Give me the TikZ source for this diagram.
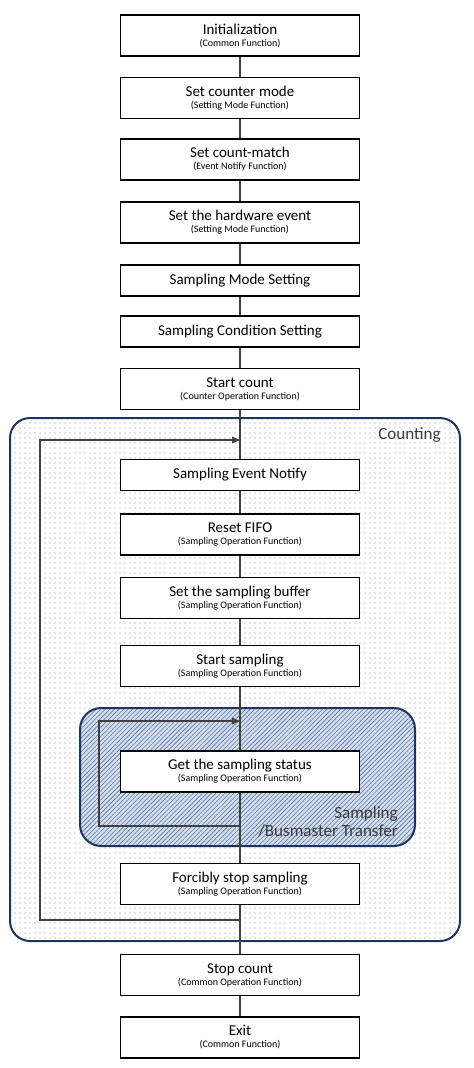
\documentclass[tikz,border=0pt]{standalone}
\usepackage{fontspec}
\setmainfont{Carlito}
\usetikzlibrary{positioning,patterns.meta,arrows.meta}
\tikzstyle{flowchart} = [x = 0.75pt, y = -0.75pt]
\definecolor{regionBorder}{RGB}{31,52,92}
\definecolor{dotColor}{RGB}{140,150,172}
\definecolor{hatchFill}{RGB}{214,223,238}
\definecolor{hatchLine}{RGB}{84,112,160}
\definecolor{labelGray}{RGB}{60,60,60}
\tikzstyle{stepStyle} = [draw=black, fill=white, line width=0.8pt, inner sep=0pt, align=center, minimum width=179.25pt, minimum height=30.75pt, font=\fontsize{11.25}{9}\selectfont]
\tikzstyle{stepSingleStyle} = [stepStyle, minimum height=23.25pt]
\tikzstyle{flowLine} = [color=black!75, line width=0.8pt]
\tikzstyle{loopArrow} = [flowLine, -{Triangle[length=6pt, width=5pt]}]
\tikzstyle{countingRegion} = [draw=regionBorder, line width=1.5pt, rounded corners=15pt, preaction={fill=white}, pattern={Dots[distance=3.75pt, radius=0.5pt]}, pattern color=dotColor]
\tikzstyle{samplingRegion} = [draw=regionBorder, line width=1.5pt, rounded corners=16pt, preaction={fill=hatchFill}, pattern={Lines[angle=45, distance=2.4pt, line width=0.45pt]}, pattern color=hatchLine]
\tikzstyle{regionLabel} = [color=labelGray, inner sep=0pt, font=\fontsize{12.8}{13.5}\selectfont]
\newcommand{\subFont}{\fontsize{7.5}{9}\selectfont}
\newcommand{\stepNode}[4]{\node [stepStyle] (#1) at (240,#2) {#3\\{\subFont(#4)}};}
\newcommand{\stepNodeSingle}[3]{\node [stepSingleStyle] (#1) at (240,#2) {#3};}

\begin{document}
\begin{tikzpicture}[flowchart]
  \useasboundingbox (0,0) rectangle (474,1068);

  % regions
  \draw [countingRegion] (10,418) rectangle (460,941);
  \draw [samplingRegion] (80,708) rectangle (415,846);
  \node [regionLabel, anchor=east] (countingLabel) at (441,435) {Counting};
  \node [regionLabel, anchor=east, align=right] (samplingLabel) at (398,822) {Sampling\\/Busmaster Transfer};

  % steps
  \stepNode{init}{35.5}{Initialization}{Common Function}
  \stepNode{counterMode}{98}{Set counter mode}{Setting Mode Function}
  \stepNode{countMatch}{159.5}{Set count-match}{Event Notify Function}
  \stepNode{hwEvent}{222.5}{Set the hardware event}{Setting Mode Function}
  \stepNodeSingle{modeSetting}{280.5}{Sampling Mode Setting}
  \stepNodeSingle{condSetting}{331.5}{Sampling Condition Setting}
  \stepNode{startCount}{389}{Start count}{Counter Operation Function}
  \stepNodeSingle{eventNotify}{475}{Sampling Event Notify}
  \stepNode{resetFifo}{534.5}{Reset FIFO}{Sampling Operation Function}
  \stepNode{setBuffer}{598}{Set the sampling buffer}{Sampling Operation Function}
  \stepNode{startSampling}{666}{Start sampling}{Sampling Operation Function}
  \stepNode{getStatus}{771.5}{Get the sampling status}{Sampling Operation Function}
  \stepNode{forceStop}{884}{Forcibly stop sampling}{Sampling Operation Function}
  \stepNode{stopCount}{975}{Stop count}{Common Operation Function}
  \stepNode{exitStep}{1037.5}{Exit}{Common Function}

  % main flow
  \foreach \from/\to in {init/counterMode, counterMode/countMatch, countMatch/hwEvent,
      hwEvent/modeSetting, modeSetting/condSetting, condSetting/startCount,
      startCount/eventNotify, eventNotify/resetFifo, resetFifo/setBuffer,
      setBuffer/startSampling, startSampling/getStatus, getStatus/forceStop,
      forceStop/stopCount, stopCount/exitStep}
    \draw [flowLine] (\from) -- (\to);

  % loops
  \coordinate (countLoopTop) at (240,440);
  \coordinate (countLoopBottom) at (240,920);
  \coordinate (sampleLoopTop) at (240,721);
  \coordinate (sampleLoopBottom) at (240,826);
  \draw [loopArrow] (countLoopBottom) -| (40,440) -- (countLoopTop);
  \draw [loopArrow] (sampleLoopBottom) -| (99,721) -- (sampleLoopTop);
\end{tikzpicture}
\end{document}
